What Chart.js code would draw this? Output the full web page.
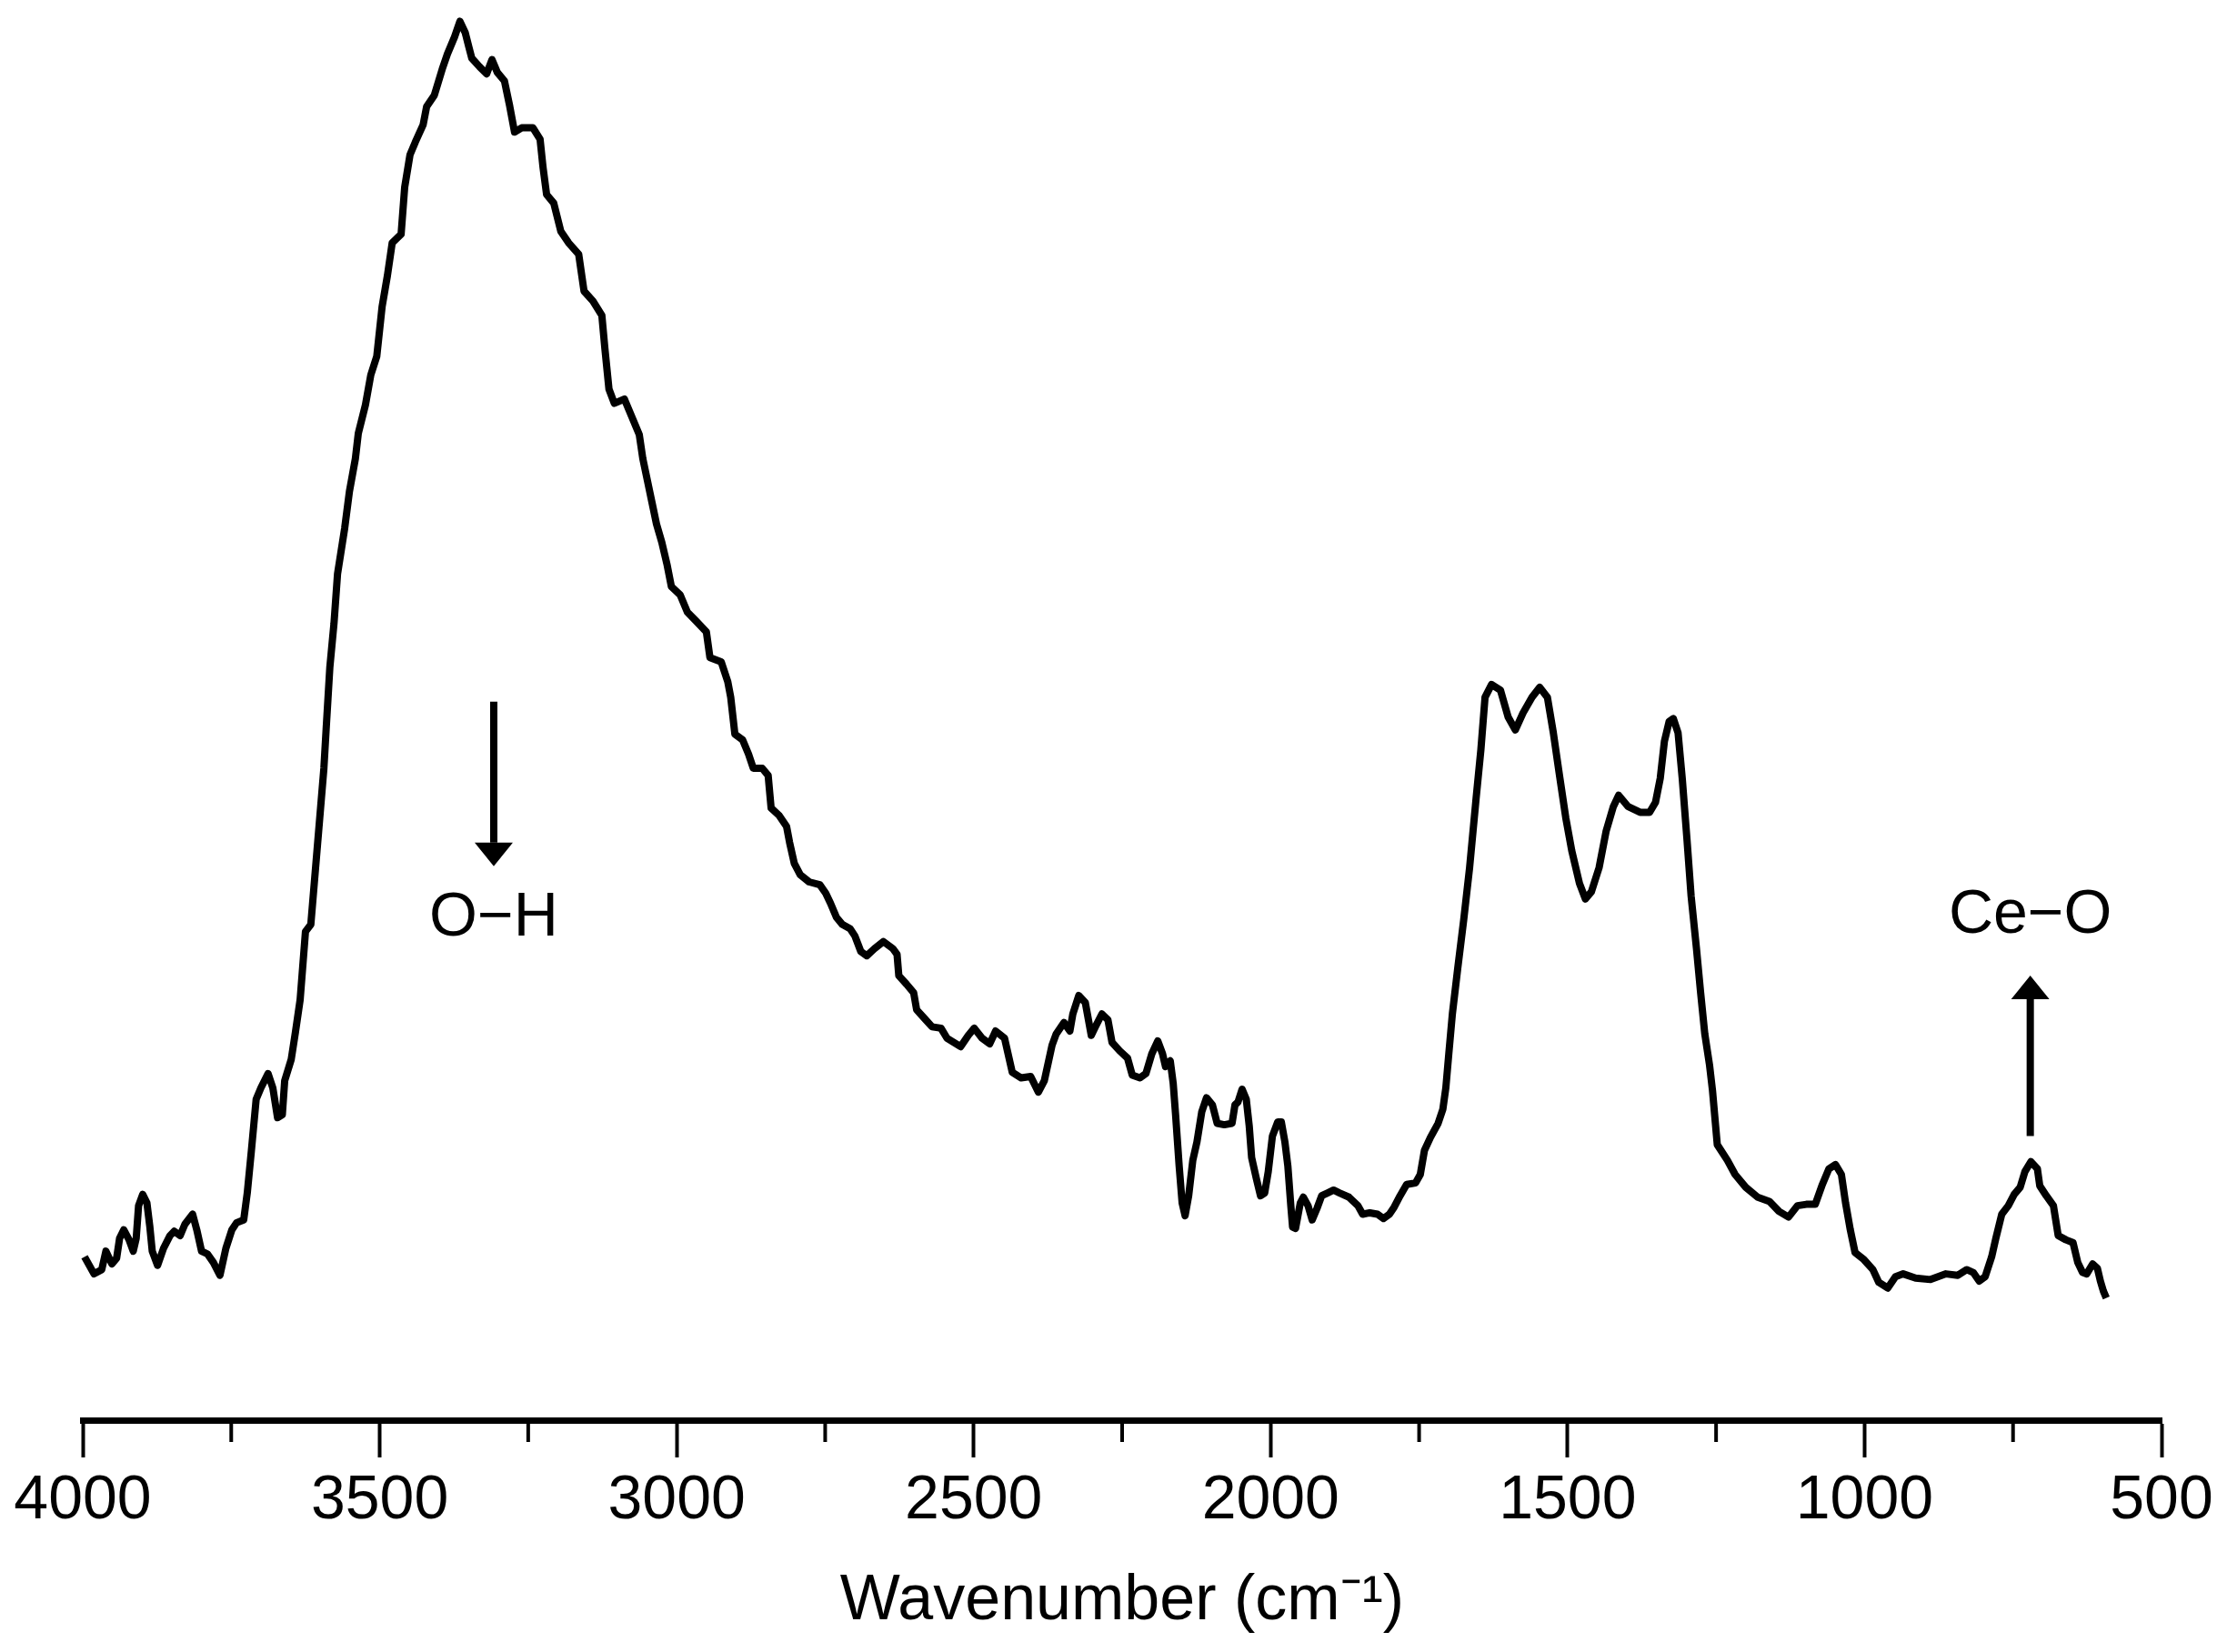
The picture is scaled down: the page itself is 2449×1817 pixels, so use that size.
<!DOCTYPE html>
<html>
<head>
<meta charset="utf-8">
<script src="https://cdn.jsdelivr.net/npm/chart.js@4.4.0/dist/chart.umd.min.js"></script>
<style>
  html, body { margin: 0; padding: 0; background: #fff; }
  #wrap { width: 2449px; height: 1817px; position: relative; }
</style>
</head>
<body>
<div id="wrap"><canvas id="ftir"></canvas></div>
<script>
// FTIR spectrum (arbitrary units, axis = 0)
var wavenumber = [
  3997, 3981, 3968, 3961, 3951, 3943, 3938, 3931, 3922, 3915, 3910, 3906, 3899, 3892, 3887, 3883,
  3874, 3864, 3853, 3846, 3836, 3828, 3815, 3808, 3800, 3790, 3780, 3769, 3759, 3749, 3741, 3729,
  3723, 3716, 3708, 3700, 3688, 3680, 3672, 3664, 3660, 3649, 3642, 3634, 3625, 3616, 3604, 3594,
  3590, 3584, 3577, 3571, 3559, 3551, 3541, 3536, 3524, 3515, 3505, 3496, 3487, 3479, 3464, 3458,
  3449, 3440, 3427, 3421, 3408, 3395, 3386, 3374, 3365, 3356, 3350, 3345, 3332, 3320, 3311, 3302,
  3290, 3281, 3273, 3261, 3242, 3230, 3225, 3219, 3207, 3195, 3182, 3165, 3156, 3141, 3126, 3121,
  3114, 3105, 3088, 3075, 3063, 3057, 3049, 3042, 3034, 3025, 3016, 3009, 2994, 2982, 2968, 2950,
  2944, 2925, 2914, 2909, 2902, 2889, 2879, 2871, 2856, 2846, 2841, 2828, 2815, 2810, 2802, 2792,
  2777, 2759, 2749, 2741, 2731, 2721, 2708, 2700, 2690, 2680, 2667, 2652, 2636, 2629, 2626, 2613,
  2601, 2596, 2583, 2570, 2555, 2545, 2522, 2509, 2499, 2486, 2473, 2463, 2448, 2435, 2420, 2404,
  2391, 2381, 2368, 2361, 2348, 2338, 2333, 2323, 2312, 2302, 2295, 2284, 2274, 2267, 2254, 2241,
  2233, 2220, 2210, 2200, 2190, 2182, 2177, 2169, 2164, 2160, 2154, 2149, 2144, 2138, 2131, 2124,
  2116, 2108, 2098, 2090, 2078, 2065, 2060, 2055, 2048, 2041, 2036, 2032, 2024, 2017, 2010, 2004,
  1997, 1988, 1982, 1976, 1971, 1966, 1963, 1958, 1950, 1945, 1937, 1930, 1922, 1914, 1904, 1894,
  1884, 1868, 1853, 1845, 1833, 1820, 1810, 1800, 1792, 1782, 1771, 1756, 1748, 1741, 1731, 1718,
  1710, 1705, 1700, 1694, 1685, 1675, 1665, 1654, 1646, 1639, 1628, 1613, 1600, 1588, 1575, 1560,
  1547, 1534, 1524, 1514, 1503, 1493, 1480, 1470, 1460, 1447, 1435, 1423, 1414, 1398, 1378, 1362,
  1352, 1344, 1337, 1329, 1322, 1314, 1307, 1299, 1292, 1283, 1276, 1269, 1261, 1256, 1248, 1231,
  1218, 1200, 1180, 1160, 1144, 1128, 1113, 1098, 1083, 1071, 1060, 1049, 1039, 1032, 1024, 1016,
  1001, 986, 976, 961, 948, 935, 914, 889, 863, 843, 828, 817, 807, 797, 786, 779,
  769, 758, 748, 738, 730, 720, 709, 705, 694, 682, 674, 661, 649, 641, 633, 626,
  616, 608, 603, 598, 593
];
var signal = [
  11.5, 10.3, 10.6, 11.9, 11.0, 11.4, 12.8, 13.4, 12.7, 11.9, 12.8, 15.1, 15.9, 15.3, 13.6, 11.9,
  10.9, 12.1, 13.0, 13.3, 13.0, 13.8, 14.5, 13.4, 11.9, 11.7, 11.1, 10.2, 12.1, 13.4, 13.9, 14.1,
  16.0, 19.0, 22.6, 23.4, 24.4, 23.4, 21.3, 21.5, 23.9, 25.4, 27.3, 29.6, 34.4, 34.9, 40.9, 45.9,
  48.8, 53.0, 56.1, 59.6, 62.8, 65.4, 67.7, 69.5, 71.5, 73.6, 74.9, 78.4, 80.6, 82.9, 83.5, 86.8,
  89.1, 90.0, 91.2, 92.5, 93.3, 95.1, 96.2, 97.4, 98.5, 97.7, 96.7, 95.9, 95.3, 94.8, 95.8, 94.9,
  94.3, 92.5, 90.7, 91.0, 91.0, 90.2, 88.2, 86.3, 85.7, 83.7, 82.9, 82.1, 79.5, 78.8, 77.8, 75.5,
  72.6, 71.6, 71.9, 70.6, 69.4, 67.7, 66.1, 64.7, 63.1, 61.8, 60.2, 58.7, 58.1, 56.9, 56.3, 55.5,
  53.7, 53.4, 52.0, 50.9, 48.3, 47.9, 46.9, 45.9, 45.9, 45.4, 43.1, 42.6, 41.8, 40.7, 39.2, 38.4,
  37.9, 37.7, 37.1, 36.4, 35.4, 34.9, 34.6, 34.1, 33.0, 32.7, 33.2, 33.7, 33.2, 32.8, 31.3, 30.7,
  30.1, 28.9, 28.3, 27.7, 27.6, 26.9, 26.3, 27.1, 27.6, 26.9, 26.5, 27.4, 26.9, 24.5, 24.1, 24.2,
  23.1, 23.9, 26.4, 27.2, 28.0, 27.4, 28.6, 29.9, 29.4, 27.1, 27.7, 28.6, 28.2, 26.6, 26.0, 25.5,
  24.3, 24.1, 24.4, 25.8, 26.7, 25.8, 24.9, 25.3, 23.7, 21.5, 17.9, 15.3, 14.4, 15.8, 18.3, 19.6,
  21.7, 22.7, 22.2, 20.9, 20.8, 20.9, 22.2, 22.4, 23.3, 22.6, 20.7, 18.5, 17.0, 15.8, 16.0, 17.5,
  20.0, 21.0, 21.0, 19.6, 17.9, 15.1, 13.6, 13.5, 15.3, 15.7, 15.1, 14.1, 14.9, 15.8, 16.0, 16.2,
  16.0, 15.7, 15.1, 14.5, 14.6, 14.5, 14.2, 14.5, 15.0, 15.8, 16.6, 16.7, 17.3, 19.0, 19.9, 20.9,
  21.9, 23.4, 25.8, 28.6, 31.8, 35.2, 38.9, 43.8, 47.2, 50.9, 51.8, 51.4, 49.5, 48.6, 49.8, 50.9,
  51.6, 50.9, 48.4, 45.5, 42.4, 40.1, 37.8, 36.7, 37.2, 38.9, 41.5, 43.2, 44.0, 43.2, 42.8, 42.8,
  43.5, 45.2, 47.8, 49.2, 49.4, 48.4, 45.2, 40.9, 36.9, 33.2, 30.1, 27.2, 25.0, 23.2, 19.4, 18.3,
  17.3, 16.4, 15.7, 15.4, 14.7, 14.3, 15.1, 15.2, 15.2, 16.6, 17.7, 18.0, 17.3, 15.3, 13.4, 11.8,
  11.3, 10.6, 9.7, 9.3, 10.1, 10.3, 10.0, 9.9, 10.3, 10.2, 10.6, 10.4, 9.8, 10.1, 11.5, 12.8,
  14.5, 15.1, 15.9, 16.4, 17.5, 18.2, 17.7, 16.5, 15.8, 15.1, 13.0, 12.7, 12.5, 11.1, 10.4, 10.3,
  11.0, 10.7, 9.8, 9.1, 8.6
];

// band assignments: label, position, arrow start/end level, label level
var bandLabels = ['O\u2212H', 'Ce\u2212O'];
var bandWavenumber = [3308, 721];
var arrowFrom = [50.6, 20.0];
var arrowTo = [39.0, 31.3];
var labelLevel = [35.3, 35.5];

var FONT = "'Liberation Sans', Arial, sans-serif";

var points = wavenumber.map(function (w, i) { return { x: w, y: signal[i] }; });

// short ticks between the labelled ones
var minorTicks = {
    id: 'minorTicks',
    afterDraw: function (chart) {
        var sc = chart.scales.x;
        var ctx = chart.ctx;
        ctx.save();
        ctx.strokeStyle = '#000';
        ctx.lineWidth = 4;
        sc.ticks.forEach(function (t) {
            if (t.value % 500 === 0) return;
            var px = sc.getPixelForValue(t.value);
            ctx.beginPath();
            ctx.moveTo(px, sc.top);
            ctx.lineTo(px, sc.top + 24);
            ctx.stroke();
        });
        ctx.restore();
    }
};

// arrows + band labels
var bands = {
    id: 'bands',
    afterDatasetsDraw: function (chart) {
        var x = chart.scales.x, y = chart.scales.y;
        var ctx = chart.ctx;
        ctx.save();
        ctx.fillStyle = '#000';
        ctx.strokeStyle = '#000';
        bandLabels.forEach(function (lab, i) {
            var px = x.getPixelForValue(bandWavenumber[i]);
            var y0 = y.getPixelForValue(arrowFrom[i]);
            var y1 = y.getPixelForValue(arrowTo[i]);
            var dir = y1 > y0 ? 1 : -1;
            var head = 26;
            ctx.lineWidth = 8;
            ctx.beginPath();
            ctx.moveTo(px, y0);
            ctx.lineTo(px, y1 - dir * head);
            ctx.stroke();
            ctx.beginPath();
            ctx.moveTo(px, y1);
            ctx.lineTo(px - 21, y1 - dir * head);
            ctx.lineTo(px + 21, y1 - dir * head);
            ctx.closePath();
            ctx.fill();

            ctx.font = '68px ' + FONT;
            ctx.textAlign = 'center';
            ctx.textBaseline = 'middle';
            ctx.fillText(lab, px, y.getPixelForValue(labelLevel[i]));
        });
        ctx.restore();
    }
};

var chart = new Chart(document.getElementById('ftir').getContext('2d'), {
    type: 'line',
    data: {
        datasets: [{
            label: 'FTIR',
            data: points,
            borderColor: '#000',
            borderWidth: 8,
            borderJoinStyle: 'round',
            pointRadius: 0,
            tension: 0,
            fill: false,
            clip: false
        }]
    },
    options: {
        responsive: true,
        maintainAspectRatio: false,
        animation: false,
        devicePixelRatio: 1,
        layout: {
            padding: { left: 91, right: 72, top: 0, bottom: 0 }
        },
        plugins: {
            legend: { display: false },
            tooltip: { enabled: false }
        },
        scales: {
            x: {
                type: 'linear',
                reverse: true,
                min: 500,
                max: 4000,
                afterFit: function (scale) { scale.height = 255; },
                border: { display: true, color: '#000', width: 7 },
                grid: {
                    drawOnChartArea: false,
                    drawTicks: true,
                    tickLength: 41,
                    tickWidth: 4,
                    tickColor: function (c) {
                        return c.tick && c.tick.value % 500 === 0 ? '#000' : 'rgba(0,0,0,0)';
                    }
                },
                ticks: {
                    stepSize: 250,
                    autoSkip: false,
                    maxRotation: 0,
                    color: '#000',
                    padding: 7,
                    font: { family: FONT, size: 68 },
                    callback: function (v) { return v % 500 === 0 ? String(v) : ''; }
                },
                title: {
                    display: true,
                    text: 'Wavenumber (cm\u207B\u00B9)',
                    color: '#000',
                    padding: { top: 0, bottom: 13 },
                    font: { family: FONT, size: 70, lineHeight: 1.2 }
                }
            },
            y: {
                display: false,
                min: 0,
                max: 100
            }
        }
    },
    plugins: [minorTicks, bands]
});
</script>
</body>
</html>
